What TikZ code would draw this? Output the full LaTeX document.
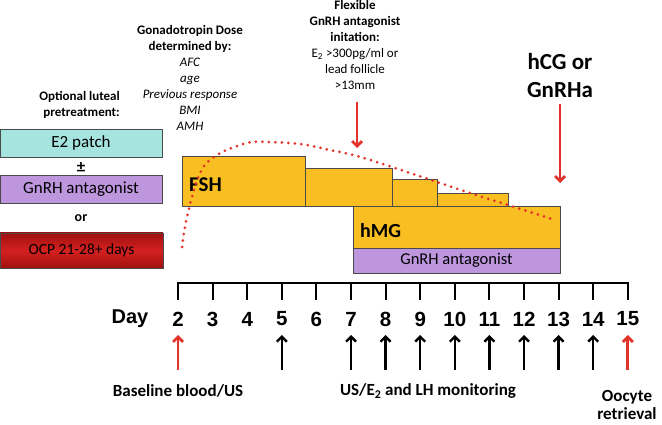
\documentclass[tikz,border=0pt]{standalone}
\usepackage{fontspec}
\setmainfont{Carlito}
\newfontfamily\dayfont{Liberation Sans}
\usetikzlibrary{positioning,arrows.meta}
\definecolor{fshgold}{HTML}{F9BE22}
\definecolor{patchcyan}{HTML}{A6E4DF}
\definecolor{antlilac}{HTML}{BD96DE}
\definecolor{ocpred}{HTML}{D42020}
\definecolor{ocpdark}{HTML}{A01010}
\definecolor{arrowred}{HTML}{E2332B}
\definecolor{edgegray}{HTML}{4A4A4A}
\tikzset{
  drugbox/.style={draw=edgegray, line width=0.9pt, inner sep=0pt, outer sep=0pt, anchor=north west},
  note/.style={align=center, inner sep=0pt, font=\fontsize{13}{16}\selectfont},
  upmark/.style={line width=2.4pt, -{Straight Barb[length=5pt,width=10pt]}},
  bigtext/.style={font=\bfseries\fontsize{17}{18}\selectfont, inner sep=0pt}
}

\begin{document}
\begin{tikzpicture}[x=1pt, y=-1pt]
  \useasboundingbox (0,0) rectangle (662,425);

  % pretreatment column
  \node [note, font=\bfseries\fontsize{13}{16}\selectfont, align=right, anchor=north east] (pre) at (120,91) {Optional luteal\\pretreatment:};
  \node [drugbox, fill=patchcyan, minimum width=162pt, minimum height=28pt, font=\fontsize{17}{18}\selectfont] (patch) at (0,129) {E2 patch};
  \node [font=\bfseries\fontsize{17}{18}\selectfont, inner sep=0pt] (pm) at (81,167) {±};
  \node [drugbox, fill=antlilac, minimum width=162pt, minimum height=28pt, font=\fontsize{17}{18}\selectfont] (antag1) at (0,175) {GnRH antagonist};
  \node [font=\bfseries\fontsize{14}{16}\selectfont, inner sep=0pt] (or) at (81,218) {or};
  \node [drugbox, top color=ocpdark, bottom color=ocpdark, middle color=ocpred, minimum width=163pt, minimum height=35pt, font=\fontsize{15.5}{16}\selectfont] (ocp) at (0,233) {OCP 21-28+ days};

  \node [note, anchor=north] (dose) at (190,25) {\textbf{Gonadotropin Dose}\\\textbf{determined by:}\\\textit{AFC}\\\textit{age}\\\textit{Previous response}\\\textit{BMI}\\\textit{AMH}};

  % stimulation boxes
  \node [drugbox, fill=fshgold, minimum width=123pt, minimum height=50pt] (fsh1) at (182,156) {};
  \node [drugbox, fill=fshgold, minimum width=87pt, minimum height=38pt] (fsh2) at (305,168) {};
  \node [drugbox, fill=fshgold, minimum width=45pt, minimum height=27pt] (fsh3) at (392,179) {};
  \node [drugbox, fill=fshgold, minimum width=71pt, minimum height=13pt] (fsh4) at (437,193) {};
  \node [drugbox, fill=fshgold, minimum width=207pt, minimum height=42pt] (hmg) at (353,206) {};
  \node [drugbox, fill=antlilac, minimum width=207pt, minimum height=25pt, font=\fontsize{16.5}{18}\selectfont] (antag2) at (353,248) {GnRH antagonist};
  \node [font=\bfseries\fontsize{21}{22}\selectfont, anchor=west, inner sep=0pt] (fshlabel) at (189,185) {FSH};
  \node [font=\bfseries\fontsize{20}{22}\selectfont, anchor=west, inner sep=0pt] (hmglabel) at (360,231) {hMG};

  % follicle curve
  \draw [arrowred, line width=3pt, line cap=round, dash pattern=on 0pt off 6.5pt]
    plot [smooth, tension=0.6] coordinates {(182,247) (187,217) (200,173) (217,155) (247,143) (267,142) (300,144) (330,150) (357,156) (392,167) (437,182) (470,193) (508,205) (555,220)};

  % triggers
  \node [note, anchor=north] (flex) at (355,0) {\textbf{Flexible}\\\textbf{GnRH antagonist}\\\textbf{initation:}\\E\textsubscript{2} >300pg/ml or\\lead follicle\\>13mm};
  \coordinate (flextip) at (357,148);
  \draw [upmark, arrowred, line width=2.8pt] (357,102) -- (flextip);
  \node [align=center, inner sep=0pt, font=\bfseries\fontsize{23}{28}\selectfont, anchor=north] (hcg) at (560,53) {hCG or\\GnRHa};
  \coordinate (hcgtip) at (560,183);
  \draw [upmark, arrowred, line width=2.8pt] (hcg.south) ++(0,6) -- (hcgtip);

  % day axis
  \node [font=\dayfont\bfseries\fontsize{20}{24}\selectfont, inner sep=0pt] (day) at (130,319) {Day};
  \foreach \d in {2,...,15} {
    \coordinate (t\d) at ({178+(\d-2)*34.6},283);
    \coordinate (b\d) at ({178+(\d-2)*34.6},300);
    \node [font=\dayfont\bfseries\fontsize{20.5}{24}\selectfont, inner sep=0pt] (d\d) at ({178+(\d-2)*34.6},319) {\d};
    \draw [line width=2pt] (t\d) -- (b\d);
  }
  \draw [line width=2pt, line cap=rect] (t2) -- (t15);

  \foreach \d in {2,5,7,8,9,10,11,12,13,14,15} {
    \coordinate (u\d) at ({178+(\d-2)*34.6},370);
    \coordinate (v\d) at ({178+(\d-2)*34.6},335);
  }
  \foreach \d in {5,7,8,9,10,11,12,13,14}
    \draw [upmark] (u\d) -- (v\d);
  \draw [upmark, arrowred, line width=2.8pt] (u2) -- (v2);
  \draw [upmark, arrowred, line width=2.8pt] (u15) -- (v15);

  \node [bigtext] (base) at (178,391) {Baseline blood/US};
  \node [bigtext] (mon) at (428,391) {US/E\textsubscript{2} and LH monitoring};
  \node [bigtext, align=center] (retr) at (627,405) {Oocyte\\retrieval};
\end{tikzpicture}
\end{document}
